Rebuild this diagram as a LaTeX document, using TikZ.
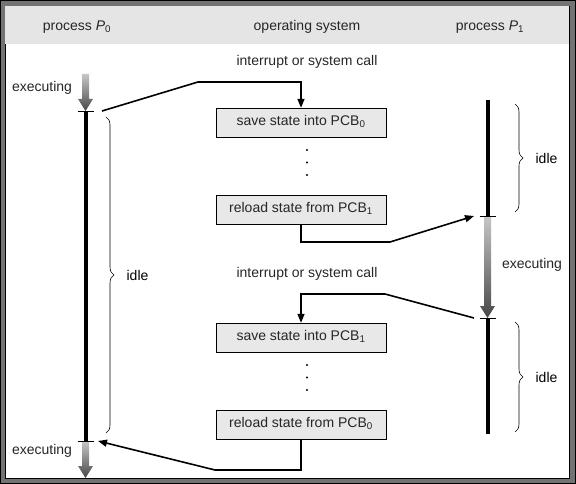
\documentclass[tikz,border=0pt]{standalone}
\usepackage{fontspec}
\setmainfont{Liberation Sans}
\usetikzlibrary{
	arrows.meta,
	decorations.pathreplacing,
	calc,
	positioning,
}
\tikzset{osstep/.style={
		% The shape:
		rectangle,
		% The size:
		minimum width=170pt,minimum height=29pt,
		% The border:
		draw=black,thin,
		% The filling:
		fill=black!9,
		% make sure text aligns properly
		text height=1.5ex,text depth=.25ex,
}}
\tikzset{timeline/.style={
		% a thick black bar
		line width=4pt,black,
}}
\tikzset{execflow/.style={
		% a shading that is light at the top...
		top color=black!22,
		% and dark at the bottom
		bottom color=black!72,
		draw=none,
}}
\tikzset{switchflow/.style={
		->,line width=1.6pt,black,
		>={Triangle[length=9pt,width=7pt]},
}}
\tikzset{idlebrace/.style={
		decorate,decoration={brace,mirror,amplitude=8pt},semithick,black,
}}
\newcommand{\execarrow}[2]{% #1 top, #2 tip
	\shade[execflow] ($(#1)+(-3.5,0)$) -- ($(#2)+(-3.5,-12)$) -- ($(#2)+(-7.5,-12)$) -- (#2)
	-- ($(#2)+(7.5,-12)$) -- ($(#2)+(3.5,-12)$) -- ($(#1)+(3.5,0)$) -- cycle;}
\newcommand{\tickmark}[1]{\draw[thin,black] ($(#1)+(-8,0)$) -- ($(#1)+(8,0)$);}

\begin{document}
\begin{tikzpicture}[x=1pt,y=-1pt,font=\fontsize{14}{16}\selectfont,text=black!85]
	\useasboundingbox (0,0) rectangle (576,484);
	% frame and header
	\fill[black!55,even odd rule] (0,0) rectangle (576,484) (5,6) rectangle (569,478);
	\draw[black,line width=1pt] (0.5,0.5) rectangle (575.5,483.5);
	\draw[black,line width=0.8pt] (5,6) rectangle (569,478);
	\fill[black!10] (5.4,6.4) rectangle (568.6,44);
	\node (head0) at (77,27) {process \textit{P}\textsubscript{0}};
	\node (heados) at (307,27) {operating system};
	\node (head1) at (490,27) {process \textit{P}\textsubscript{1}};

	% process P0
	\coordinate (p0start) at (85.5,74);
	\coordinate (p0stop) at (85.5,111);
	\coordinate (p0back) at (85.5,441);
	\coordinate (p0end) at (85.5,478);
	\execarrow{p0start}{p0stop}
	\draw[timeline] (p0stop) -- (p0back);
	\execarrow{p0back}{p0end}
	\tickmark{p0stop}
	\tickmark{p0back}
	\node (exec0) at (42,88) {executing};
	\node (exec0b) at (42,451) {executing};
	\draw[idlebrace] (106,433) -- (106,117) node [midway,right=17pt] (idle0) {idle};

	% process P1
	\coordinate (p1start) at (487.5,100);
	\coordinate (p1run) at (487.5,216);
	\coordinate (p1stop) at (487.5,318);
	\coordinate (p1end) at (487.5,434);
	\draw[timeline] (p1start) -- (p1run);
	\execarrow{p1run}{p1stop}
	\draw[timeline] (p1stop) -- (p1end);
	\tickmark{p1run}
	\tickmark{p1stop}
	\node (exec1) at (532,265) {executing};
	\draw[idlebrace] (515,212) -- (515,104) node [midway,right=17pt] (idle1a) {idle};
	\draw[idlebrace] (515,432) -- (515,322) node [midway,right=17pt] (idle1b) {idle};

	% operating system
	\node (call0) at (307,62) {interrupt or system call};
	\node[osstep] (save0) at (301,122.5) {save state into PCB\textsubscript{0}};
	\node[osstep] (reload1) at (301,209.5) {reload state from PCB\textsubscript{1}};
	\node (call1) at (307,274) {interrupt or system call};
	\node[osstep] (save1) at (301,337.5) {save state into PCB\textsubscript{1}};
	\node[osstep] (reload0) at (301,424.5) {reload state from PCB\textsubscript{0}};
	\foreach \y in {150,162.5,175,365,377.5,390}
		\fill (307,\y) circle (1.1pt);

	% context switches
	\coordinate (leave0) at (102,111);
	\coordinate (bend0) at (198,82);
	\coordinate (bend1) at (390,242);
	\coordinate (enter1) at (474,216);
	\coordinate (leave1) at (474,318);
	\coordinate (bend2) at (385,294);
	\coordinate (bend3) at (215,470);
	\coordinate (enter0) at (98,441);
	\draw[switchflow] (leave0) -- (bend0) -| (save0.north);
	\draw[switchflow] (reload1.south) |- (bend1) -- (enter1);
	\draw[switchflow] (leave1) -- (bend2) -| (save1.north);
	\draw[switchflow] (reload0.south) |- (bend3) -- (enter0);
\end{tikzpicture}
\end{document}
